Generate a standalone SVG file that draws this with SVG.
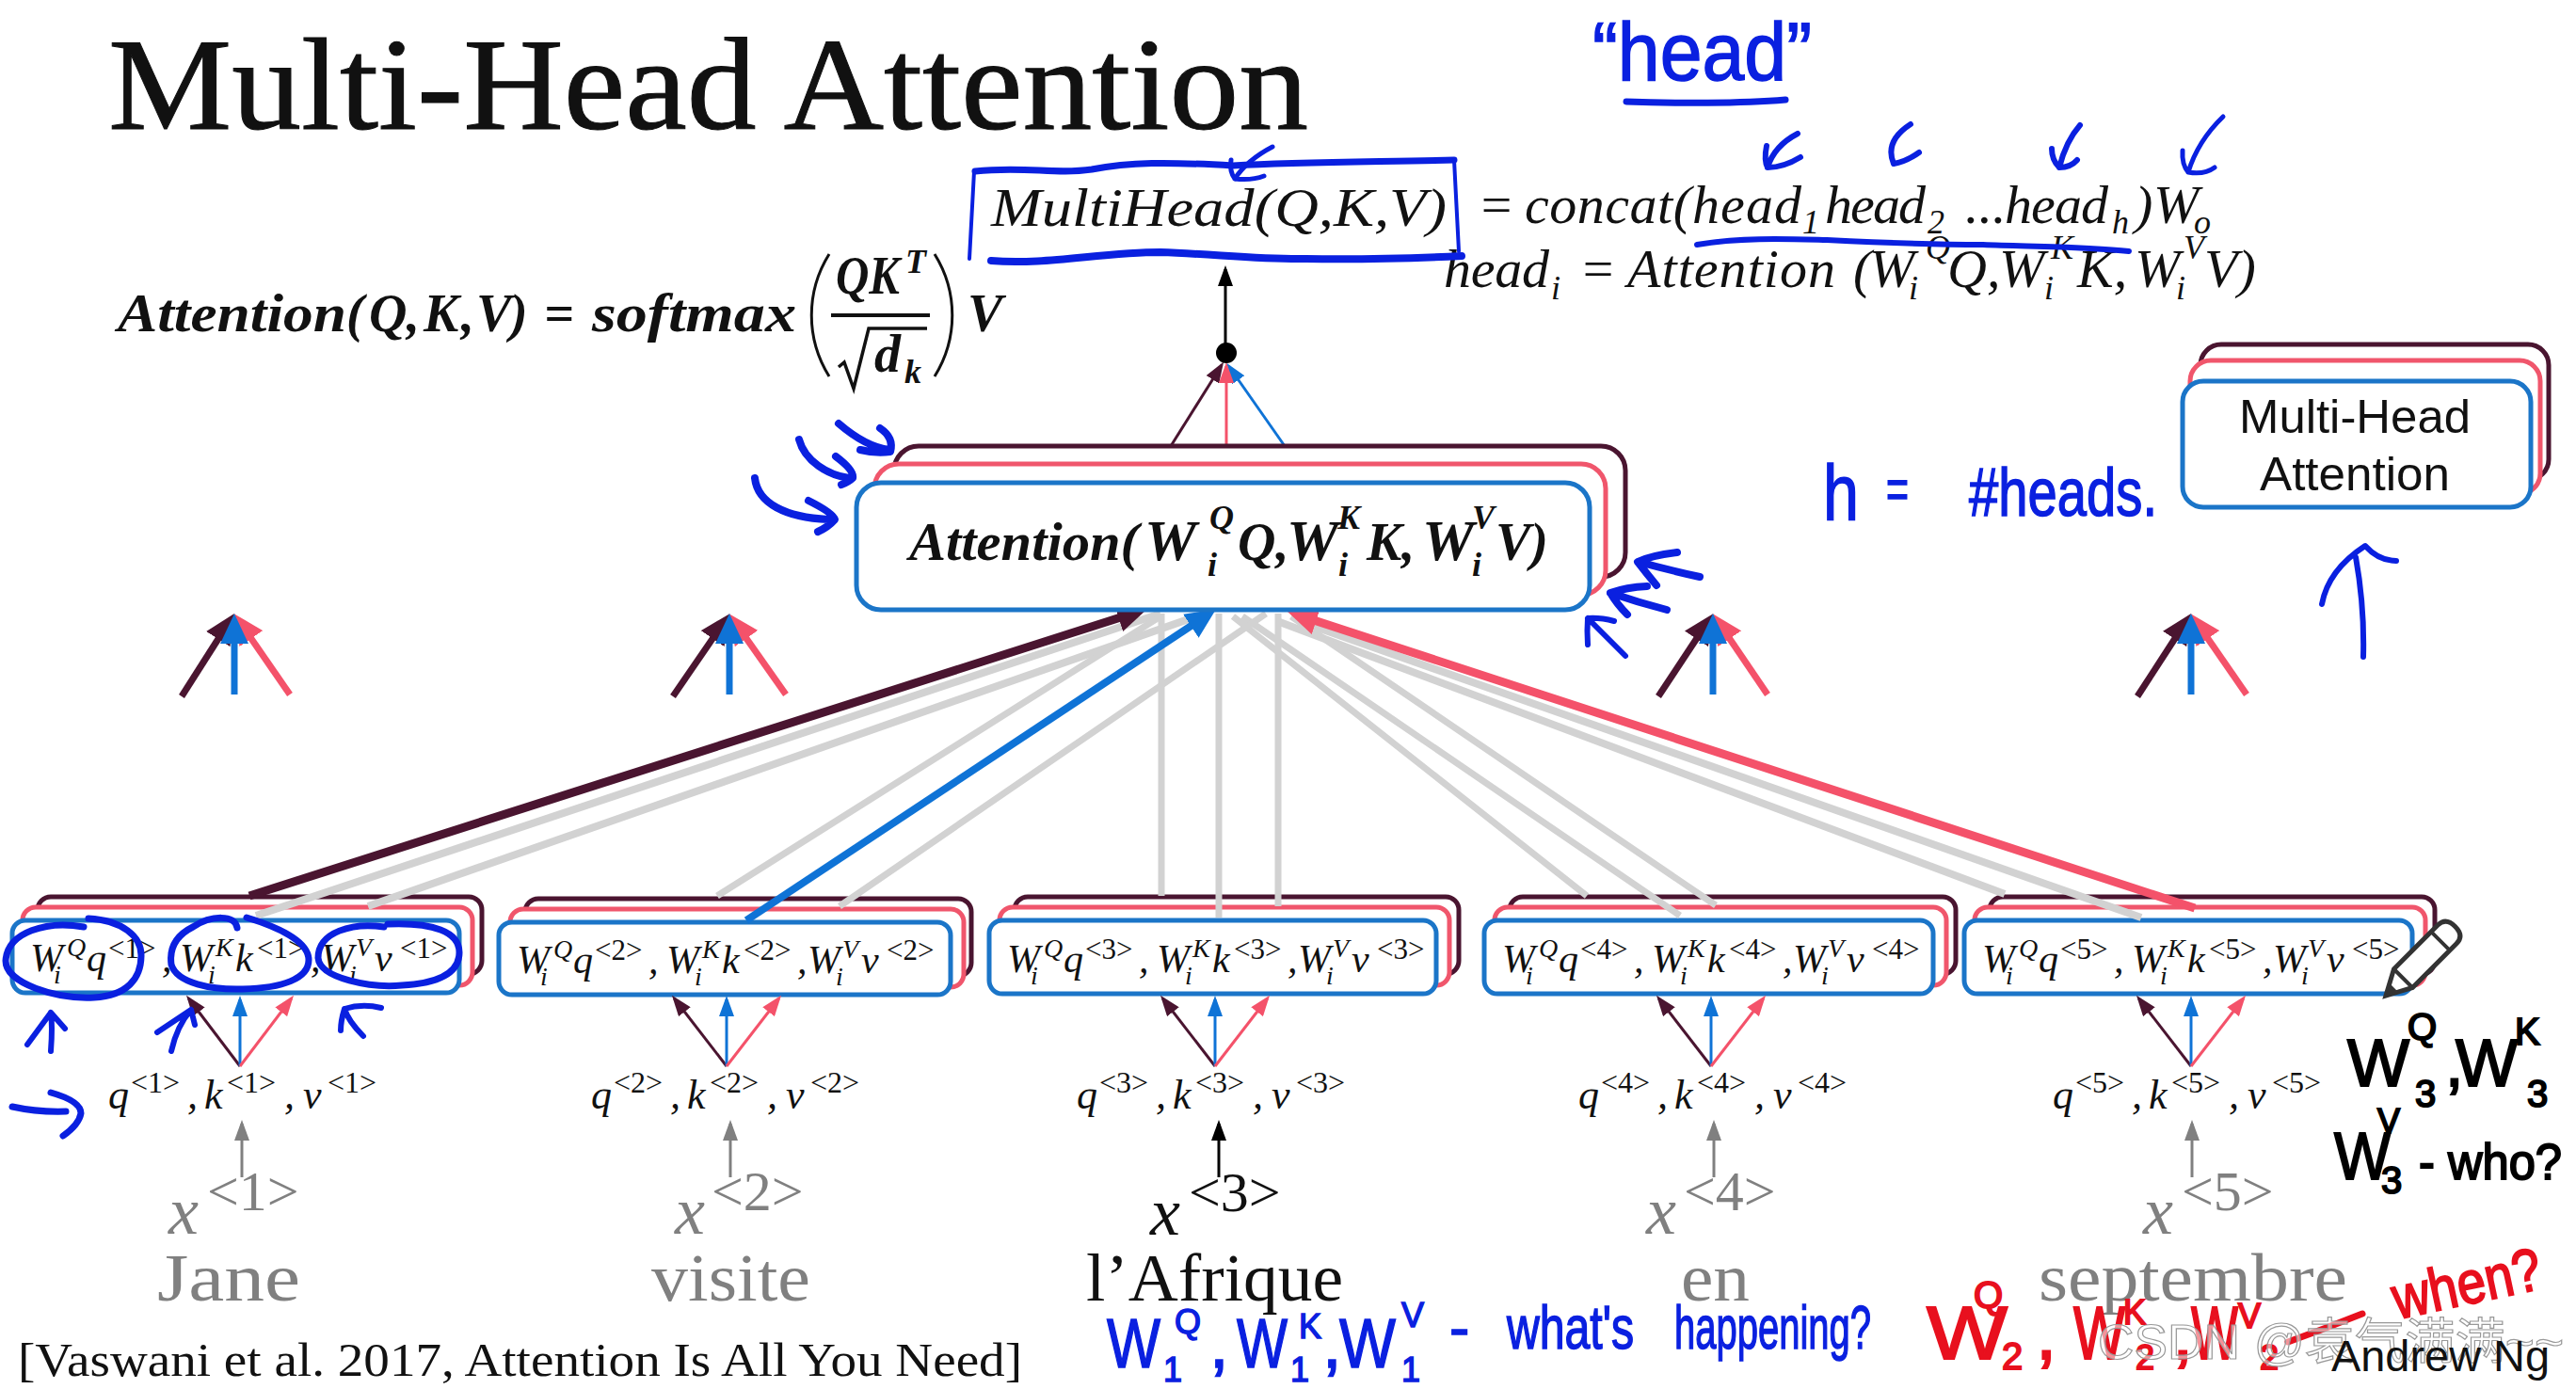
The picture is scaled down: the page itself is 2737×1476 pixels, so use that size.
<svg xmlns="http://www.w3.org/2000/svg" width="2737" height="1476" viewBox="0 0 2737 1476">
<style>
text{font-family:"Liberation Serif","Noto Sans CJK SC",serif;fill:#111}
.title{font-size:140px;stroke:#111;stroke-width:1}
.cite{font-size:50px}
.w{font-size:72px;fill:#808080}
.xv{font-size:72px;font-style:italic;fill:#808080}
.xs{font-size:60px;font-style:normal}
.f{font-size:58px;font-style:italic}
.f2{font-size:36px;font-style:italic}
.b{font-size:56px;font-style:italic;font-weight:bold}
.b3{font-size:62px}
.b2{font-size:36px;font-style:italic;font-weight:bold}
.lab{font-size:42px;font-style:italic}
.lab2{font-size:28px;font-style:italic}
.lab3{font-size:31px;font-style:normal}
.qk{font-size:44px;font-style:italic}
.qk3{font-size:32px;font-style:normal}
.sans{font-family:"Liberation Sans",Arial,sans-serif}
.hb{font-family:"Liberation Sans",sans-serif;fill:#0a20e0;stroke:#0a20e0;stroke-width:1.5}
.hk{font-family:"Liberation Sans",sans-serif;fill:#000;stroke:#000;stroke-width:2}
.hr{font-family:"Liberation Sans",sans-serif;fill:#e8101e;stroke:#e8101e;stroke-width:2}
.wm{font-family:"Liberation Sans","Noto Sans CJK SC",sans-serif;font-size:52px;fill:#fff;fill-opacity:.55;stroke:#999;stroke-width:1.2}
.bb{fill:#fff;stroke:#1b75c8;stroke-width:5}
.br{fill:#fff;stroke:#f0566c;stroke-width:5}
.bd{fill:#fff;stroke:#4a1530;stroke-width:5}
.g{stroke:#d2d2d2;fill:none}
.cd{stroke:#4a1530;fill:none}
.cr{stroke:#f4526a;fill:none}
.cb{stroke:#0f73d6;fill:none}
.hand{fill:none;stroke:#0a20e0;stroke-width:7;stroke-linecap:round;stroke-linejoin:round}
.handr{fill:none;stroke:#e8101e;stroke-width:7;stroke-linecap:round}
</style>
<defs>
<marker id="hd" markerUnits="userSpaceOnUse" markerWidth="32" markerHeight="30" viewBox="0 0 32 30" refX="22" refY="15" orient="auto"><path d="M0 0L32 15L0 30Z" fill="#4a1530"/></marker>
<marker id="hr" markerUnits="userSpaceOnUse" markerWidth="32" markerHeight="30" viewBox="0 0 32 30" refX="22" refY="15" orient="auto"><path d="M0 0L32 15L0 30Z" fill="#f4526a"/></marker>
<marker id="hb" markerUnits="userSpaceOnUse" markerWidth="32" markerHeight="30" viewBox="0 0 32 30" refX="22" refY="15" orient="auto"><path d="M0 0L32 15L0 30Z" fill="#0f73d6"/></marker>
<marker id="sd" markerUnits="userSpaceOnUse" markerWidth="22" markerHeight="16" viewBox="0 0 22 16" refX="18" refY="8" orient="auto"><path d="M0 0L22 8L0 16Z" fill="#4a1530"/></marker>
<marker id="sr" markerUnits="userSpaceOnUse" markerWidth="22" markerHeight="16" viewBox="0 0 22 16" refX="18" refY="8" orient="auto"><path d="M0 0L22 8L0 16Z" fill="#f4526a"/></marker>
<marker id="sb" markerUnits="userSpaceOnUse" markerWidth="22" markerHeight="16" viewBox="0 0 22 16" refX="18" refY="8" orient="auto"><path d="M0 0L22 8L0 16Z" fill="#0f73d6"/></marker>
<marker id="sg" markerUnits="userSpaceOnUse" markerWidth="22" markerHeight="16" viewBox="0 0 22 16" refX="18" refY="8" orient="auto"><path d="M0 0L22 8L0 16Z" fill="#808080"/></marker>
<marker id="sk" markerUnits="userSpaceOnUse" markerWidth="22" markerHeight="16" viewBox="0 0 22 16" refX="18" refY="8" orient="auto"><path d="M0 0L22 8L0 16Z" fill="#000"/></marker>
</defs>
<rect width="2737" height="1476" fill="#fff"/>

<g id="title"><text class="title" x="115" y="137" textLength="1275" lengthAdjust="spacingAndGlyphs">Multi-Head Attention</text></g>
<g id="citation"><text class="cite" x="19" y="1462" textLength="1067" lengthAdjust="spacingAndGlyphs">[Vaswani et al. 2017, Attention Is All You Need]</text></g>

<g id="formula-attention">
<text class="b" y="352"><tspan x="125" textLength="243" lengthAdjust="spacingAndGlyphs">Attention</tspan><tspan x="368">(</tspan><tspan x="392">Q</tspan><tspan x="432">,</tspan><tspan x="450">K</tspan><tspan x="490">,</tspan><tspan x="506">V</tspan><tspan x="542">)</tspan><tspan x="578">=</tspan><tspan x="629" textLength="217" lengthAdjust="spacingAndGlyphs">softmax</tspan><tspan x="1028">V</tspan></text>
<text class="b" y="312"><tspan x="888" textLength="68" lengthAdjust="spacingAndGlyphs">QK</tspan><tspan class="b2" x="962" y="290">T</tspan></text>
<text class="b" y="395" x="929">d<tspan class="b2" x="961" y="407">k</tspan></text>
<path d="M883 335H988" stroke="#111" stroke-width="4" fill="none"/>
<path d="M891 390L897 385L907 413L923 349H985" stroke="#111" stroke-width="3.5" fill="none"/>
<path d="M881 270C856 310 856 360 881 400M993 270C1018 310 1018 360 993 400" stroke="#111" stroke-width="3" fill="none"/>
</g>

<g id="formula-multihead">
<text class="f" x="1053" y="240" textLength="484" lengthAdjust="spacingAndGlyphs">MultiHead(Q,K,V)</text>
</g>
<g id="formula-concat">
<text class="f" y="237"><tspan x="1570">=</tspan><tspan x="1620" textLength="177">concat(</tspan><tspan x="1798" textLength="116">head</tspan><tspan class="f2" x="1915" y="248">1</tspan><tspan x="1939" y="237" textLength="107">head</tspan><tspan class="f2" x="2048" y="248">2</tspan><tspan x="2088" y="237">...</tspan><tspan x="2130" textLength="110">head</tspan><tspan class="f2" x="2244" y="248">h</tspan><tspan x="2268" y="237">)</tspan><tspan x="2288">W</tspan><tspan class="f2" x="2331" y="248">o</tspan></text>
</g>
<g id="formula-head">
<text class="f" y="305"><tspan x="1534" textLength="112">head</tspan><tspan class="f2" x="1648" y="318">i</tspan><tspan x="1678" y="305">=</tspan><tspan x="1729" textLength="221">Attention</tspan><tspan x="1969">(</tspan><tspan x="1986">W</tspan><tspan class="f2" x="2028" y="318">i</tspan><tspan class="f2" x="2046" y="275">Q</tspan><tspan x="2069" y="305">Q,</tspan><tspan x="2124">W</tspan><tspan class="f2" x="2172" y="318">i</tspan><tspan class="f2" x="2179" y="275">K</tspan><tspan x="2207" y="305">K,</tspan><tspan x="2268">W</tspan><tspan class="f2" x="2312" y="318">i</tspan><tspan class="f2" x="2320" y="275">V</tspan><tspan x="2342" y="305">V)</tspan></text>
</g>

<!-- bottom boxes -->
<g id="node-box1"><rect class="bd" x="40" y="953" width="472" height="82" rx="14"/><rect class="br" x="24" y="964" width="478" height="83" rx="14"/><rect class="bb" x="13" y="978" width="475" height="77" rx="14"/>
<text class="lab" y="1032"><tspan x="32">W</tspan><tspan class="lab2" x="57" y="1045">i</tspan><tspan class="lab2" x="71" y="1016">Q</tspan><tspan x="92" y="1032">q</tspan><tspan class="lab3" x="115" y="1018">&lt;1&gt;</tspan><tspan x="172" y="1032">,</tspan><tspan x="191">W</tspan><tspan class="lab2" x="221" y="1045">i</tspan><tspan class="lab2" x="229" y="1016">K</tspan><tspan x="250" y="1032">k</tspan><tspan class="lab3" x="273" y="1018">&lt;1&gt;</tspan><tspan x="330" y="1032">,</tspan><tspan x="341">W</tspan><tspan class="lab2" x="371" y="1045">i</tspan><tspan class="lab2" x="378" y="1016">V</tspan><tspan x="398" y="1032">v</tspan><tspan class="lab3" x="425" y="1018">&lt;1&gt;</tspan></text></g>
<g id="node-box2"><rect class="bd" x="558" y="955" width="474" height="82" rx="14"/><rect class="br" x="542" y="966" width="482" height="83" rx="14"/><rect class="bb" x="530" y="980" width="480" height="77" rx="14"/>
<text class="lab" y="1034"><tspan x="549">W</tspan><tspan class="lab2" x="574" y="1047">i</tspan><tspan class="lab2" x="588" y="1018">Q</tspan><tspan x="609" y="1034">q</tspan><tspan class="lab3" x="632" y="1020">&lt;2&gt;</tspan><tspan x="689" y="1034">,</tspan><tspan x="708">W</tspan><tspan class="lab2" x="738" y="1047">i</tspan><tspan class="lab2" x="746" y="1018">K</tspan><tspan x="767" y="1034">k</tspan><tspan class="lab3" x="790" y="1020">&lt;2&gt;</tspan><tspan x="847" y="1034">,</tspan><tspan x="858">W</tspan><tspan class="lab2" x="888" y="1047">i</tspan><tspan class="lab2" x="895" y="1018">V</tspan><tspan x="915" y="1034">v</tspan><tspan class="lab3" x="942" y="1020">&lt;2&gt;</tspan></text></g>
<g id="node-box3"><rect class="bd" x="1078" y="953" width="472" height="82" rx="14"/><rect class="br" x="1062" y="964" width="478" height="83" rx="14"/><rect class="bb" x="1051" y="978" width="475" height="78" rx="14"/>
<text class="lab" y="1033"><tspan x="1070">W</tspan><tspan class="lab2" x="1095" y="1046">i</tspan><tspan class="lab2" x="1109" y="1017">Q</tspan><tspan x="1130" y="1033">q</tspan><tspan class="lab3" x="1153" y="1019">&lt;3&gt;</tspan><tspan x="1210" y="1033">,</tspan><tspan x="1229">W</tspan><tspan class="lab2" x="1259" y="1046">i</tspan><tspan class="lab2" x="1267" y="1017">K</tspan><tspan x="1288" y="1033">k</tspan><tspan class="lab3" x="1311" y="1019">&lt;3&gt;</tspan><tspan x="1368" y="1033">,</tspan><tspan x="1379">W</tspan><tspan class="lab2" x="1409" y="1046">i</tspan><tspan class="lab2" x="1416" y="1017">V</tspan><tspan x="1436" y="1033">v</tspan><tspan class="lab3" x="1463" y="1019">&lt;3&gt;</tspan></text></g>
<g id="node-box4"><rect class="bd" x="1604" y="953" width="474" height="82" rx="14"/><rect class="br" x="1588" y="964" width="480" height="83" rx="14"/><rect class="bb" x="1577" y="978" width="477" height="78" rx="14"/>
<text class="lab" y="1033"><tspan x="1596">W</tspan><tspan class="lab2" x="1621" y="1046">i</tspan><tspan class="lab2" x="1635" y="1017">Q</tspan><tspan x="1656" y="1033">q</tspan><tspan class="lab3" x="1679" y="1019">&lt;4&gt;</tspan><tspan x="1736" y="1033">,</tspan><tspan x="1755">W</tspan><tspan class="lab2" x="1785" y="1046">i</tspan><tspan class="lab2" x="1793" y="1017">K</tspan><tspan x="1814" y="1033">k</tspan><tspan class="lab3" x="1837" y="1019">&lt;4&gt;</tspan><tspan x="1894" y="1033">,</tspan><tspan x="1905">W</tspan><tspan class="lab2" x="1935" y="1046">i</tspan><tspan class="lab2" x="1942" y="1017">V</tspan><tspan x="1962" y="1033">v</tspan><tspan class="lab3" x="1989" y="1019">&lt;4&gt;</tspan></text></g>
<g id="node-box5"><rect class="bd" x="2114" y="953" width="473" height="82" rx="14"/><rect class="br" x="2098" y="964" width="479" height="83" rx="14"/><rect class="bb" x="2087" y="978" width="476" height="78" rx="14"/>
<text class="lab" y="1033"><tspan x="2106">W</tspan><tspan class="lab2" x="2131" y="1046">i</tspan><tspan class="lab2" x="2145" y="1017">Q</tspan><tspan x="2166" y="1033">q</tspan><tspan class="lab3" x="2189" y="1019">&lt;5&gt;</tspan><tspan x="2246" y="1033">,</tspan><tspan x="2265">W</tspan><tspan class="lab2" x="2295" y="1046">i</tspan><tspan class="lab2" x="2303" y="1017">K</tspan><tspan x="2324" y="1033">k</tspan><tspan class="lab3" x="2347" y="1019">&lt;5&gt;</tspan><tspan x="2404" y="1033">,</tspan><tspan x="2415">W</tspan><tspan class="lab2" x="2445" y="1046">i</tspan><tspan class="lab2" x="2452" y="1017">V</tspan><tspan x="2472" y="1033">v</tspan><tspan class="lab3" x="2499" y="1019">&lt;5&gt;</tspan></text></g>

<g id="connectors">
<g class="g" stroke-width="8">
<path d="M272 973L1233 652M391 963L1271 655"/>
<path d="M2130 950L1357 660M2275 975L1380 660"/>
<path d="M1686 952L1310 655M1785 973L1320 655M1823 962L1372 655" stroke-width="7"/>
<path d="M762 952L1233 655M892 963L1345 652" stroke-width="7"/>
<path d="M1234 952V652M1295 975V652M1358 963V652" stroke-width="7"/>
</g>
<path class="cd" stroke-width="9" marker-end="url(#hd)" d="M265 952L1209.5 650"/>
<path class="cb" stroke-width="8" marker-end="url(#hb)" d="M793 978L1283.6 653"/>
<path class="cr" stroke-width="9" marker-end="url(#hr)" d="M2332 965L1377.5 653"/>

<g stroke-width="7">
<path class="cd" marker-end="url(#hd)" d="M193 740L243.6 660.5"/><path class="cr" marker-end="url(#hr)" d="M308 738L254.4 660.5"/><path class="cb" marker-end="url(#hb)" d="M249 738V662"/>
<path class="cd" marker-end="url(#hd)" d="M715 740L769.6 660.5"/><path class="cr" marker-end="url(#hr)" d="M835 738L780.4 660.5"/><path class="cb" marker-end="url(#hb)" d="M775 738V662"/>
<path class="cd" marker-end="url(#hd)" d="M1762 740L1814.6 660.5"/><path class="cr" marker-end="url(#hr)" d="M1878 738L1825.4 660.5"/><path class="cb" marker-end="url(#hb)" d="M1820 738V662"/>
<path class="cd" marker-end="url(#hd)" d="M2271 740L2322.6 660.5"/><path class="cr" marker-end="url(#hr)" d="M2387 738L2333.4 660.5"/><path class="cb" marker-end="url(#hb)" d="M2328 738V662"/>
</g>

<g stroke-width="3">
<path class="cd" marker-end="url(#sd)" d="M255 1133L200.4 1061"/><path class="cb" marker-end="url(#sb)" d="M255 1133V1062"/><path class="cr" marker-end="url(#sr)" d="M255 1133L309.6 1061"/>
<path class="cd" marker-end="url(#sd)" d="M772 1133L716.4 1061"/><path class="cb" marker-end="url(#sb)" d="M772 1133V1062"/><path class="cr" marker-end="url(#sr)" d="M772 1133L827.6 1061"/>
<path class="cd" marker-end="url(#sd)" d="M1291 1133L1235.4 1061"/><path class="cb" marker-end="url(#sb)" d="M1291 1133V1062"/><path class="cr" marker-end="url(#sr)" d="M1291 1133L1346.6 1061"/>
<path class="cd" marker-end="url(#sd)" d="M1818 1133L1762.4 1061"/><path class="cb" marker-end="url(#sb)" d="M1818 1133V1062"/><path class="cr" marker-end="url(#sr)" d="M1818 1133L1873.6 1061"/>
<path class="cd" marker-end="url(#sd)" d="M2328 1133L2272.4 1061"/><path class="cb" marker-end="url(#sb)" d="M2328 1133V1062"/><path class="cr" marker-end="url(#sr)" d="M2328 1133L2383.6 1061"/>
</g>

<g stroke-width="3" fill="none">
<path stroke="#808080" marker-end="url(#sg)" d="M257 1251V1194"/>
<path stroke="#808080" marker-end="url(#sg)" d="M776 1251V1194"/>
<path stroke="#000" marker-end="url(#sk)" d="M1295 1251V1194"/>
<path stroke="#808080" marker-end="url(#sg)" d="M1821 1251V1194"/>
<path stroke="#808080" marker-end="url(#sg)" d="M2329 1251V1194"/>
</g>

<g stroke-width="3">
<path class="cd" marker-end="url(#sd)" d="M1244 474L1298 388"/><path class="cb" marker-end="url(#sb)" d="M1365 474L1305.5 389"/><path class="cr" marker-end="url(#sr)" d="M1303 474V389"/>
</g>
<path d="M1302 373V286" stroke="#000" stroke-width="3" fill="none" marker-end="url(#sk)"/>
<circle cx="1303" cy="375" r="11" fill="#000"/>
</g>

<g id="node-attention"><rect class="bd" x="950" y="474" width="777" height="139" rx="26"/><rect class="br" x="929" y="493" width="777" height="139" rx="26"/><rect class="bb" x="910" y="513" width="779" height="135" rx="26"/>
<text class="b" y="595"><tspan x="966" textLength="244" lengthAdjust="spacingAndGlyphs">Attention(</tspan><tspan class="b3" x="1216">W</tspan><tspan class="b2" x="1283" y="612">i</tspan><tspan class="b2" x="1285" y="562">Q</tspan><tspan x="1315" y="595">Q,</tspan><tspan class="b3" x="1367">W</tspan><tspan class="b2" x="1422" y="612">i</tspan><tspan class="b2" x="1421" y="562">K</tspan><tspan x="1452" y="595">K,</tspan><tspan class="b3" x="1511">W</tspan><tspan class="b2" x="1564" y="612">i</tspan><tspan class="b2" x="1564" y="562">V</tspan><tspan x="1589" y="595">V)</tspan></text></g>

<g id="node-multihead"><rect class="bd" x="2338" y="366" width="370" height="144" rx="22"/><rect class="br" x="2327" y="383" width="372" height="142" rx="22"/><rect class="bb" x="2319" y="405" width="370" height="134" rx="22"/>
<text class="sans" font-size="50" x="2379" y="460" textLength="246" lengthAdjust="spacingAndGlyphs">Multi-Head</text>
<text class="sans" font-size="50" x="2401" y="521" textLength="202" lengthAdjust="spacingAndGlyphs">Attention</text></g>

<g id="word-1"><text class="xv" x="179" y="1311">x<tspan class="xs" x="220" y="1286">&lt;1&gt;</tspan></text><text class="w" x="167" y="1382" textLength="152" lengthAdjust="spacingAndGlyphs">Jane</text>
<text class="qk" y="1178"><tspan x="115">q</tspan><tspan class="qk3" x="139" y="1161">&lt;1&gt;</tspan><tspan x="199" y="1178">,</tspan><tspan x="217">k</tspan><tspan class="qk3" x="241" y="1161">&lt;1&gt;</tspan><tspan x="302" y="1178">,</tspan><tspan x="322">v</tspan><tspan class="qk3" x="348" y="1161">&lt;1&gt;</tspan></text></g>
<g id="word-2"><text class="xv" x="717" y="1311">x<tspan class="xs" x="756" y="1286">&lt;2&gt;</tspan></text><text class="w" x="692" y="1382" textLength="169" lengthAdjust="spacingAndGlyphs">visite</text>
<text class="qk" y="1178"><tspan x="628">q</tspan><tspan class="qk3" x="652" y="1161">&lt;2&gt;</tspan><tspan x="712" y="1178">,</tspan><tspan x="730">k</tspan><tspan class="qk3" x="754" y="1161">&lt;2&gt;</tspan><tspan x="815" y="1178">,</tspan><tspan x="835">v</tspan><tspan class="qk3" x="861" y="1161">&lt;2&gt;</tspan></text></g>
<g id="word-3"><text class="xv" style="fill:#111" x="1222" y="1312">x<tspan class="xs" x="1263" y="1287">&lt;3&gt;</tspan></text><text class="w" style="fill:#111" x="1154" y="1382" textLength="273" lengthAdjust="spacingAndGlyphs">l’Afrique</text>
<text class="qk" y="1178"><tspan x="1144">q</tspan><tspan class="qk3" x="1168" y="1161">&lt;3&gt;</tspan><tspan x="1228" y="1178">,</tspan><tspan x="1246">k</tspan><tspan class="qk3" x="1270" y="1161">&lt;3&gt;</tspan><tspan x="1331" y="1178">,</tspan><tspan x="1351">v</tspan><tspan class="qk3" x="1377" y="1161">&lt;3&gt;</tspan></text></g>
<g id="word-4"><text class="xv" x="1749" y="1311">x<tspan class="xs" x="1789" y="1286">&lt;4&gt;</tspan></text><text class="w" x="1786" y="1382" textLength="73" lengthAdjust="spacingAndGlyphs">en</text>
<text class="qk" y="1178"><tspan x="1677">q</tspan><tspan class="qk3" x="1701" y="1161">&lt;4&gt;</tspan><tspan x="1761" y="1178">,</tspan><tspan x="1779">k</tspan><tspan class="qk3" x="1803" y="1161">&lt;4&gt;</tspan><tspan x="1864" y="1178">,</tspan><tspan x="1884">v</tspan><tspan class="qk3" x="1910" y="1161">&lt;4&gt;</tspan></text></g>
<g id="word-5"><text class="xv" x="2277" y="1311">x<tspan class="xs" x="2318" y="1286">&lt;5&gt;</tspan></text><text class="w" x="2166" y="1382" textLength="328" lengthAdjust="spacingAndGlyphs">septembre</text>
<text class="qk" y="1178"><tspan x="2181">q</tspan><tspan class="qk3" x="2205" y="1161">&lt;5&gt;</tspan><tspan x="2265" y="1178">,</tspan><tspan x="2283">k</tspan><tspan class="qk3" x="2307" y="1161">&lt;5&gt;</tspan><tspan x="2368" y="1178">,</tspan><tspan x="2388">v</tspan><tspan class="qk3" x="2414" y="1161">&lt;5&gt;</tspan></text></g>

<g id="pencil" transform="translate(2535 1058) rotate(-45)"><path d="M0 0L26 -14H92Q104 -14 104 0Q104 14 92 14H26Z" fill="#fff" stroke="#333" stroke-width="5"/><path d="M0 0L12 -6V6Z" fill="#333"/><path d="M26 -14V14M82 -14V14" stroke="#333" stroke-width="4" fill="none"/></g>

<g id="annotations-blue">
<path class="hand" d="M1036 182C1090 176 1120 186 1160 180C1200 172 1240 172 1310 176C1380 172 1460 172 1545 170"/>
<path class="hand" style="stroke-width:4" d="M1545 170L1550 267M1035 182L1030 275"/>
<path class="hand" style="stroke-width:8" d="M1053 277C1110 282 1170 268 1233 268C1290 270 1340 276 1388 275C1450 276 1510 274 1553 272"/>
<path class="hand" style="stroke-width:6" d="M1803 260C1850 252 1900 254 1941 255C2000 258 2060 260 2107 260C2160 262 2220 262 2262 267"/>
<path class="hand" style="stroke-width:7" d="M1728 108C1780 110 1850 110 1897 106"/>
<path class="hand" style="stroke-width:5" d="M1352 156Q1325 170 1312 190M1308 170Q1306 182 1312 190Q1330 192 1343 187"/>
<path class="hand" style="stroke-width:6" d="M1910 142Q1885 155 1878 178M1877 155Q1874 170 1878 178Q1895 178 1913 167"/>
<path class="hand" style="stroke-width:6" d="M2030 132Q2002 150 2012 174Q2025 172 2039 162"/>
<path class="hand" style="stroke-width:6" d="M2210 133Q2195 150 2188 178M2180 158Q2180 170 2188 178Q2200 178 2207 170"/>
<path class="hand" style="stroke-width:5" d="M2362 124Q2335 150 2325 183M2319 160Q2318 175 2325 183Q2342 186 2353 178"/>

<path class="hand" style="stroke-width:8" d="M891 450Q920 475 945 478M935 455Q950 465 946 480Q930 482 914 478"/>
<path class="hand" style="stroke-width:8" d="M849 467C855 490 880 505 902 508M888 485Q908 500 906 508Q902 512 894 515"/>
<path class="hand" style="stroke-width:8" d="M802 508C805 535 835 550 880 552M859 532Q885 545 887 552Q880 560 869 565"/>
<path class="hand" style="stroke-width:8" d="M1806 613Q1770 605 1741 597M1782 587Q1755 590 1740 597Q1750 610 1760 622"/>
<path class="hand" style="stroke-width:8" d="M1771 648Q1740 640 1711 630M1750 623Q1728 624 1711 630Q1718 642 1729 653"/>
<path class="hand" style="stroke-width:6" d="M1727 697Q1705 675 1687 657M1715 660Q1700 656 1687 657Q1686 670 1687 685"/>
<path class="hand" style="stroke-width:6" d="M2511 698C2512 660 2508 620 2503 592M2467 642C2472 615 2490 595 2513 580C2522 590 2532 596 2546 596"/>

<path class="hand" style="stroke-width:7" d="M89 985C50 978 8 990 6 1021C6 1045 60 1062 100 1060C135 1058 150 1040 150 1015C150 995 130 978 94 976"/>
<path class="hand" style="stroke-width:7" d="M252 986C250 972 225 972 205 985C185 995 180 1010 182 1025C188 1045 225 1052 258 1051C300 1050 328 1040 328 1020C328 1000 295 985 262 975"/>
<path class="hand" style="stroke-width:7" d="M408 985C375 980 338 990 338 1018C340 1040 395 1050 427 1047C465 1045 488 1035 488 1012C488 990 460 980 412 982"/>
<path class="hand" style="stroke-width:6" d="M29 1110L54 1076L69 1093M54 1117Q56 1090 54 1076"/>
<path class="hand" style="stroke-width:6" d="M167 1097L203 1073L207 1089M182 1117Q188 1090 203 1073"/>
<path class="hand" style="stroke-width:6" d="M386 1101Q370 1085 366 1072M366 1072Q385 1066 405 1071M366 1072Q362 1085 362 1095"/>
<path class="hand" style="stroke-width:7" d="M13 1176Q40 1182 70 1181M54 1161Q86 1170 86 1183Q84 1195 67 1207"/>

<text class="hb" font-size="88" x="1692" y="85" textLength="233" lengthAdjust="spacingAndGlyphs">“head”</text>
<text class="hb" font-size="84" x="1937" y="553" textLength="38" lengthAdjust="spacingAndGlyphs">h</text>
<text class="hb" font-size="60" x="2004" y="540" textLength="24" lengthAdjust="spacingAndGlyphs">=</text>
<text class="hb" font-size="72" x="2092" y="548" textLength="200" lengthAdjust="spacingAndGlyphs">#heads.</text>
<text class="hb" font-size="74" y="1453"><tspan x="1176" textLength="57" lengthAdjust="spacingAndGlyphs">W</tspan><tspan font-size="36" x="1248" y="1417">Q</tspan><tspan font-size="36" x="1236" y="1468">1</tspan><tspan x="1285" y="1453">,</tspan><tspan x="1314" textLength="54" lengthAdjust="spacingAndGlyphs">W</tspan><tspan font-size="36" x="1380" y="1422">K</tspan><tspan font-size="36" x="1371" y="1468">1</tspan><tspan x="1405" y="1453">,</tspan><tspan x="1423" textLength="60" lengthAdjust="spacingAndGlyphs">W</tspan><tspan font-size="36" x="1489" y="1410">V</tspan><tspan font-size="36" x="1489" y="1468">1</tspan></text>
<text class="hb" font-size="64" y="1433"><tspan x="1540">-</tspan><tspan x="1601" textLength="135" lengthAdjust="spacingAndGlyphs">what's</tspan><tspan x="1779" textLength="209" lengthAdjust="spacingAndGlyphs">happening?</tspan></text>
</g>

<g id="annotations-black">
<text class="hk" font-size="70" y="1154"><tspan x="2494">W</tspan><tspan font-size="40" x="2558" y="1105">Q</tspan><tspan font-size="40" x="2566" y="1176">3</tspan><tspan x="2598" y="1154">,</tspan><tspan x="2609">W</tspan><tspan font-size="40" x="2672" y="1110">K</tspan><tspan font-size="40" x="2685" y="1176">3</tspan></text>
<text class="hk" font-size="70" y="1253"><tspan x="2480" textLength="60" lengthAdjust="spacingAndGlyphs">W</tspan><tspan font-size="36" x="2526" y="1204">V</tspan><tspan font-size="40" x="2530" y="1268">3</tspan></text>
<text class="hk" font-size="54" x="2570" y="1253" textLength="152" lengthAdjust="spacingAndGlyphs">- who?</text>
</g>

<g id="annotations-red">
<text class="hr" font-size="80" y="1444"><tspan x="2047" textLength="86" lengthAdjust="spacingAndGlyphs">W</tspan><tspan font-size="40" x="2097" y="1390">Q</tspan><tspan font-size="40" x="2127" y="1455">2</tspan><tspan x="2163" y="1444">,</tspan><tspan x="2203" textLength="55" lengthAdjust="spacingAndGlyphs">W</tspan><tspan font-size="36" x="2256" y="1407">K</tspan><tspan font-size="36" x="2269" y="1455">2</tspan><tspan x="2308" y="1444">,</tspan><tspan x="2328" textLength="50" lengthAdjust="spacingAndGlyphs">W</tspan><tspan font-size="36" x="2378" y="1411">V</tspan><tspan font-size="36" x="2401" y="1455">2</tspan></text>
<path class="handr" d="M2431 1426Q2470 1412 2510 1396"/>
<text class="hr" font-size="64" transform="translate(2547 1402) rotate(-12)" x="0" y="0" textLength="160" lengthAdjust="spacingAndGlyphs">when?</text>
</g>

<g id="watermark"><text class="wm" x="2229" y="1444" textLength="495" lengthAdjust="spacingAndGlyphs">CSDN @袁气满满~~</text></g>
<g id="credit"><text class="sans" font-size="46" x="2477" y="1457" textLength="232" lengthAdjust="spacingAndGlyphs">Andrew Ng</text></g>
</svg>
